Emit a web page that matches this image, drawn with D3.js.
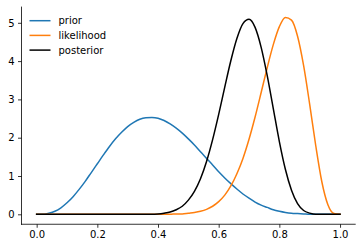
<!DOCTYPE html>
<html><head><meta charset="utf-8">
<script src="https://cdn.jsdelivr.net/npm/d3@7"></script>
<style>html,body{margin:0;padding:0;background:#fff}svg{display:block}</style>
</head><body>
<svg id="chart" width="362" height="248"></svg>
<script>
// ---- data ----
const xValues = [0.00,0.02,0.04,0.06,0.08,0.10,0.12,0.14,0.16,0.18,0.20,0.22,0.24,0.26,0.28,0.30,0.32,0.34,0.36,0.38,0.40,0.42,0.44,0.46,0.48,0.50,0.52,0.54,0.56,0.58,0.60,0.62,0.64,0.66,0.68,0.70,0.72,0.74,0.76,0.78,0.80,0.82,0.84,0.86,0.88,0.90,0.92,0.94,0.96,0.98,1.00];
const prior = [0,0,0.03,0.08,0.17,0.30,0.46,0.65,0.86,1.09,1.32,1.55,1.77,1.97,2.14,2.29,2.40,2.48,2.52,2.53,2.51,2.45,2.36,2.25,2.12,1.97,1.81,1.63,1.46,1.29,1.11,0.95,0.80,0.66,0.53,0.42,0.32,0.24,0.18,0.12,0.08,0.05,0.03,0.02,0.01,0,0,0,0,0,0];
const likelihood = [0,0,0,0,0,0,0,0,0,0,0,0,0,0,0,0,0,0,0,0,0,0,0,0.01,0.01,0.03,0.05,0.08,0.13,0.21,0.33,0.50,0.74,1.06,1.46,1.96,2.54,3.18,3.83,4.43,4.90,5.14,5.07,4.65,3.88,2.87,1.79,0.85,0.25,0.02,0];
const posterior = [0,0,0,0,0,0,0,0,0,0,0,0,0,0,0,0,0,0,0,0,0.01,0.03,0.06,0.12,0.21,0.37,0.60,0.93,1.38,1.95,2.61,3.32,4.01,4.59,4.98,5.09,4.88,4.36,3.62,2.76,1.90,1.17,0.63,0.28,0.10,0.03,0,0,0,0,0];
const seriesNames = ["prior","likelihood","posterior"];
const seriesColors = ["#1f77b4","#ff7f0e","#000000"];
const xTicks = [0.0,0.2,0.4,0.6,0.8,1.0];
const yTicks = [0,1,2,3,4,5];

// ---- chart ----
const svg = d3.select("#chart");
const font = "DejaVu Sans, sans-serif";
const x = d3.scaleLinear().domain([-0.05,1.05]).range([21.5,355.2]);
const y = d3.scaleLinear().domain([0,5]).range([214.3,22.8]);
const yMin = -0.26, yMax = 5.41;

const series = [prior, likelihood, posterior];
const line = d3.line().x(d=>x(d[0])).y(d=>y(d[1])).curve(d3.curveMonotoneX);

// axes
const xAxis = d3.axisBottom(x).tickValues(xTicks).tickFormat(d3.format(".1f")).tickSize(3.5).tickPadding(3.5);
const yAxis = d3.axisLeft(y).tickValues(yTicks).tickFormat(d3.format("d")).tickSize(3.5).tickPadding(3.5);

const gx = svg.append("g").attr("transform",`translate(0,${y(yMin)})`).call(xAxis);
const gy = svg.append("g").attr("transform",`translate(${x(-0.05)},0)`).call(yAxis);
[gx,gy].forEach(g=>{
  g.select(".domain").remove();
  g.selectAll(".tick line").attr("stroke","#000").attr("stroke-width",0.8);
  g.selectAll(".tick text").attr("font-family",font).attr("font-size",10).attr("fill","#000");
});
// spines (left and bottom only)
svg.append("line").attr("x1",x(-0.05)).attr("x2",x(-0.05)).attr("y1",y(yMin)).attr("y2",y(yMax))
  .attr("stroke","#000").attr("stroke-width",0.8).attr("stroke-linecap","square");
svg.append("line").attr("x1",x(-0.05)).attr("x2",x(1.05)).attr("y1",y(yMin)).attr("y2",y(yMin))
  .attr("stroke","#000").attr("stroke-width",0.8).attr("stroke-linecap","square");

// curves
series.forEach((vals,i)=>{
  svg.append("path")
    .datum(xValues.map((xv,j)=>[xv,vals[j]]))
    .attr("fill","none").attr("stroke",seriesColors[i]).attr("stroke-width",1.5)
    .attr("stroke-linejoin","round").attr("stroke-linecap","square")
    .attr("d",line);
});

// legend
const lg = svg.append("g");
seriesNames.forEach((name,i)=>{
  const ly = 20.7 + i*14.7;
  lg.append("line").attr("x1",29.5).attr("x2",50.5).attr("y1",ly).attr("y2",ly)
    .attr("stroke",seriesColors[i]).attr("stroke-width",1.5);
  lg.append("text").attr("x",58.5).attr("y",ly).attr("dy","0.35em")
    .attr("font-family",font).attr("font-size",10).attr("fill","#000").text(name);
});
</script></body></html>
